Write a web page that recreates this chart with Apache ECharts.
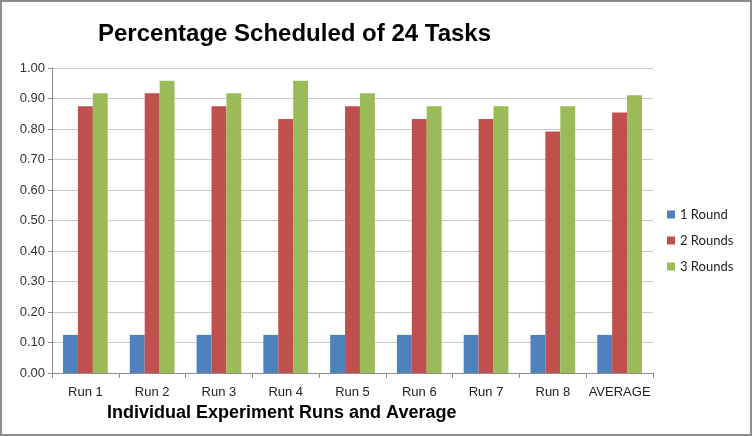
<!DOCTYPE html>
<html>
<head>
<meta charset="utf-8">
<script src="https://cdn.jsdelivr.net/npm/echarts@6/dist/echarts.min.js"></script>
<style>
  html, body { margin: 0; padding: 0; background: #fff; }
  #chart { width: 752px; height: 436px; box-sizing: border-box; border: 2px solid #8c8c8c; }
</style>
</head>
<body>
<div id="chart"></div>
<script>
// values (fractions of 24 tasks)
var categories = ['Run 1', 'Run 2', 'Run 3', 'Run 4', 'Run 5', 'Run 6', 'Run 7', 'Run 8', 'AVERAGE'];
var oneRound = [0.125, 0.125, 0.125, 0.125, 0.125, 0.125, 0.125, 0.125, 0.125];
var twoRounds = [0.875, 0.917, 0.875, 0.833, 0.875, 0.833, 0.833, 0.792, 0.854];
var threeRounds = [0.917, 0.958, 0.917, 0.958, 0.917, 0.875, 0.875, 0.875, 0.911];

var chart = echarts.init(document.getElementById('chart'), null, { renderer: 'canvas' });

function bar(name, data, color) {
  return {
    name: name,
    type: 'bar',
    data: data,
    barGap: '0%',
    barCategoryGap: '33%',
    itemStyle: { color: color },
    silent: true
  };
}

chart.setOption({
  animation: false,
  textStyle: { fontFamily: 'Liberation Sans' },
  title: {
    text: 'Percentage Scheduled of 24 Tasks',
    left: 91,
    top: 15,
    textStyle: { fontSize: 24, fontWeight: 'bold', color: '#000', fontFamily: 'Liberation Sans' }
  },
  legend: {
    orient: 'vertical',
    left: 660,
    top: 201,
    itemWidth: 8,
    itemHeight: 8,
    itemGap: 13,
    icon: 'rect',
    textStyle: { fontSize: 13, color: '#222', fontFamily: 'Lato' },
    data: ['1 Round', '2 Rounds', '3 Rounds']
  },
  grid: { left: 50, right: 97, top: 66, bottom: 61, containLabel: false },
  xAxis: {
    type: 'category',
    data: categories,
    name: 'Individual Experiment Runs and Average',
    nameLocation: 'start',
    nameGap: 0,
    nameTextStyle: {
      fontSize: 18, fontWeight: 'bold', color: '#000', fontFamily: 'Liberation Sans',
      align: 'left', verticalAlign: 'top', padding: [31, 0, 0, 55]
    },
    axisLine: { lineStyle: { color: '#8c8c8c', width: 1 } },
    axisTick: { show: true, length: 5, lineStyle: { color: '#8c8c8c' } },
    axisLabel: {
      interval: 0, fontSize: 13, color: '#222', margin: 13,
      fontFamily: 'Liberation Sans Narrow, Liberation Sans'
    }
  },
  yAxis: {
    type: 'value',
    min: 0,
    max: 1,
    interval: 0.1,
    axisLine: { show: true, lineStyle: { color: '#8c8c8c' } },
    axisTick: { show: true, length: 4, lineStyle: { color: '#8c8c8c' } },
    axisLabel: {
      fontSize: 13, color: '#333', margin: 7,
      formatter: function (v) { return v.toFixed(2); }
    },
    splitLine: { lineStyle: { color: '#c8c8c8', width: 1 } }
  },
  series: [
    bar('1 Round', oneRound, '#4f81bd'),
    bar('2 Rounds', twoRounds, '#c0504d'),
    bar('3 Rounds', threeRounds, '#9bbb59')
  ]
});
</script>
</body>
</html>
